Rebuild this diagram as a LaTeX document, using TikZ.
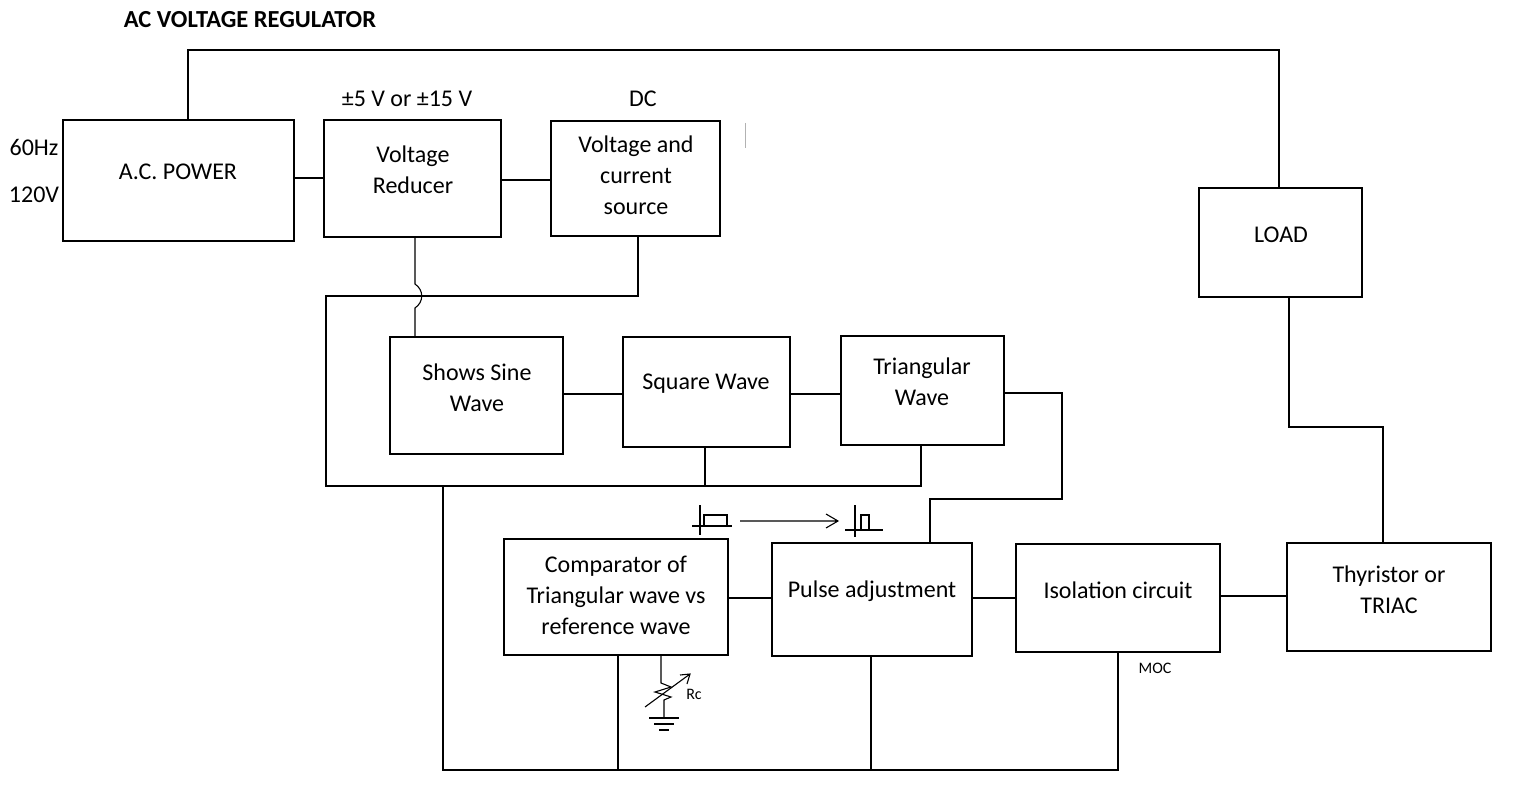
\documentclass[tikz,border=0pt]{standalone}
\usepackage{fontspec}
\setmainfont{Carlito}
\begin{document}
\begin{tikzpicture}[x=1pt,y=-1pt,
 box/.style={draw,line width=2pt,inner sep=0pt},
 txt/.style={align=center,inner sep=0pt,font=\fontsize{24}{31}\selectfont},
 ln/.style={line width=1.1pt},
 lbl/.style={font=\fontsize{24}{26}\selectfont}]
\useasboundingbox (0,0) rectangle (1516,797);
\newcommand{\bx}[8]{\node[box,minimum width=#4-#2,minimum height=#5-#3] (#1) at ({(#2+#4)/2},{(#3+#5)/2}) {};
 \node[txt] (#1t) at (#6,#7) {#8};}
\bx{ac}{63}{120}{294}{241}{178}{172}{A.C. POWER}
\bx{vr}{324}{120}{501}{237}{413}{170}{Voltage\\Reducer}
\bx{vc}{551}{121}{720}{236}{636}{175}{Voltage and\\current\\source}
\bx{load}{1199}{188}{1362}{297}{1281}{235}{LOAD}
\bx{sine}{390}{337}{563}{454}{477}{388}{Shows Sine\\Wave}
\bx{sq}{623}{337}{790}{447}{706}{384}{Square Wave}
\bx{tri}{841}{336}{1004}{445}{922}{382}{Triangular\\Wave}
\bx{cmp}{504}{539}{728}{655}{616}{595}{Comparator of\\Triangular wave vs\\reference wave}
\bx{pulse}{772}{543}{972}{656}{872}{591}{Pulse adjustment}
\bx{iso}{1016}{544}{1220}{652}{1118}{590}{Isolation circuit}
\bx{thy}{1287}{543}{1491}{651}{1389}{590}{Thyristor or\\TRIAC}
\node[font=\bfseries\fontsize{24.5}{28}\selectfont] (title) at (250,20) {AC VOLTAGE REGULATOR};
\node[lbl] (hz) at (34,147) {60Hz};
\node[lbl] (v) at (34,195) {120V};
\node[lbl] (pm) at (407,99) {±5 V or ±15 V};
\node[lbl] (dc) at (643,99) {DC};
\node[font=\fontsize{16}{18}\selectfont] (moc) at (1155,668) {MOC};
\node[font=\fontsize{16}{18}\selectfont] (rc) at (694,694) {Rc};
% connectors
\draw[ln] (188,120) -- (188,50) -- (1279,50) -- (1279,188);
\draw[ln] (294,178) -- (324,178);
\draw[ln] (501,180) -- (551,180);
\draw[ln] (415,237) -- (415,284) .. controls (424,290) and (424,302) .. (415,308) -- (415,337);
\draw[ln] (638,236) -- (638,296) -- (326,296) -- (326,486) -- (921,486) -- (921,445);
\draw[ln] (705,447) -- (705,486);
\draw[ln] (443,486) -- (443,770) -- (1118,770) -- (1118,652);
\draw[ln] (618,655) -- (618,770);
\draw[ln] (871,656) -- (871,770);
\draw[ln] (563,394) -- (623,394);
\draw[ln] (790,394) -- (841,394);
\draw[ln] (1004,393) -- (1062,393) -- (1062,499) -- (930,499) -- (930,543);
\draw[ln] (728,598) -- (772,598);
\draw[ln] (972,598) -- (1016,598);
\draw[ln] (1220,596) -- (1287,596);
\draw[ln] (1289,297) -- (1289,427) -- (1383,427) -- (1383,543);
\draw[gray!60,line width=0.8pt] (745,123) -- (745,148);
% Rc
\draw[ln] (661,656) -- (661,683) -- (671,687) -- (655,692) -- (671,697) -- (664,700) -- (664,718);
\draw[ln] (649,718) -- (679,718) (654,724) -- (674,724) (659,730) -- (669,730);
\draw[ln] (645,707) -- (690,674) (680,675) -- (690,674) -- (687,684);
% pulse symbols
\draw[ln] (700,505) -- (700,535) (692,526) -- (732,526);
\draw[line width=1.6pt] (704,526) -- (704,515) -- (727,515) -- (727,526);
\draw[ln] (740,521) -- (838,521) (826,514) -- (838,521) -- (826,528);
\draw[ln] (855,505) -- (855,537) (845,530) -- (883,530);
\draw[line width=1.6pt] (861,530) -- (861,515) -- (869,515) -- (869,530);
\end{tikzpicture}
\end{document}
